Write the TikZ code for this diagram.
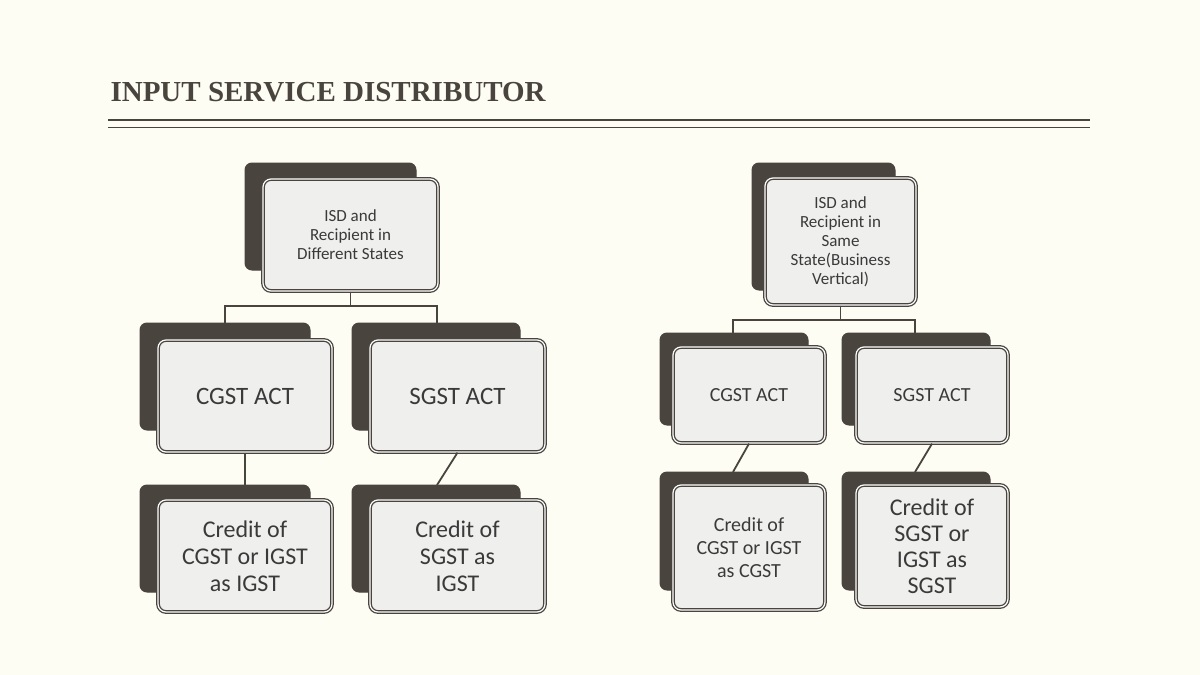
\documentclass[tikz,border=0pt]{standalone}
\usepackage{fontspec}
\setmainfont{Carlito}
\newfontfamily\titlefont{Liberation Serif}
\begin{document}
\begin{tikzpicture}[x=1pt,y=-1pt,
  back/.style={fill=dk,draw=dk,rounded corners=7pt,line width=1pt},
  front/.style={draw=dk,line width=1.3pt,double=white,double distance=1.2pt,fill=fr,rounded corners=8pt,align=center,text=tx,inner sep=2pt},
  conn/.style={draw=dk,line width=1.8pt}]
\definecolor{dk}{HTML}{4A443F}
\definecolor{fr}{HTML}{EFEFED}
\definecolor{tx}{HTML}{3A3A3A}
\definecolor{bg}{HTML}{FDFDF4}
\fill[bg] (0,0) rectangle (1200,675);
\useasboundingbox (0,0) rectangle (1200,675);
\node[anchor=base west,font=\titlefont\bfseries\fontsize{29}{30}\selectfont,text=dk] (title) at (107,101) {INPUT SERVICE DISTRIBUTOR};
\draw[dk,line width=2.5pt] (108,120) -- (1090,120);
\draw[dk,line width=1pt] (108,127.5) -- (1090,127.5);
% back boxes
\foreach \a/\b/\c/\d in {245/163/416/270, 140/323/310/430, 352/323/520/430, 140/485/310/592, 352/485/520/592,
  752/163/895/290, 660/333/808/425, 842/333/990/425, 660/472/808/590, 842/472/990/590}
  \draw[back] (\a,\b) rectangle (\c,\d);
% front boxes
\newcommand\fb[7]{\node[front,minimum width={#4-#2},minimum height={#5-#3}] (#1) at ({(#2+#4)/2},{(#3+#5)/2}) {};
  \node[text=tx,align=center,font=\fontsize{#6}{#6}\selectfont] (#1t) at ({(#2+#4)/2},{(#3+#5)/2}) {#7};}
\fb{a}{263}{179}{438}{291}{17}{ISD and\\[2pt]Recipient in\\[2pt]Different States}
\fb{b}{158}{340}{332}{452}{25}{CGST ACT}
\fb{c}{370}{340}{545}{452}{25}{SGST ACT}
\fb{d}{158}{500}{332}{612}{24}{Credit of\\[3pt]CGST or IGST\\[3pt]as IGST}
\fb{e}{370}{500}{545}{612}{24}{Credit of\\[3pt]SGST as\\[3pt]IGST}
\fb{f}{765}{178}{916}{305}{17}{ISD and\\[2pt]Recipient in\\[2pt]Same\\[2pt]State(Business\\[2pt]Vertical)}
\fb{g}{673}{347}{825}{443}{20}{CGST ACT}
\fb{h}{856}{347}{1008}{443}{20}{SGST ACT}
\fb{i}{673}{485}{825}{610}{20}{Credit of\\[3pt]CGST or IGST\\[3pt]as CGST}
\fb{j}{856}{485}{1008}{607}{24}{Credit of\\[2pt]SGST or\\[2pt]IGST as\\[2pt]SGST}
% connectors
\draw[conn] (a.south) -- ++(0,14) -| (225,323);
\draw[conn] (a.south) ++(0,14) -| (437,323);
\draw[conn] (b.south) -- (245,485);
\draw[conn] (c.south) -- (437,485);
\draw[conn] (f.south) -- ++(0,14) -| (733,333);
\draw[conn] (f.south) ++(0,14) -| (915,333);
\draw[conn] (g.south) -- (733,472);
\draw[conn] (h.south) -- (915,472);
\end{tikzpicture}
\end{document}
